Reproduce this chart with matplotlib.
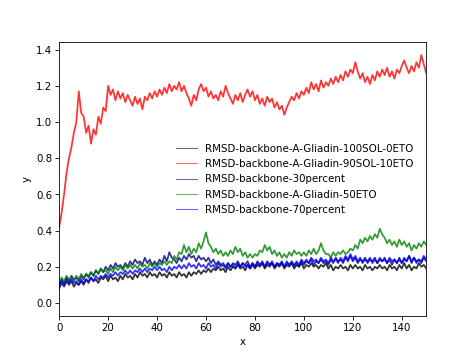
import matplotlib
matplotlib.use("Agg")
import matplotlib.pyplot as plt
import numpy as np

# time axis (one sample per unit)
time = np.arange(0, 151)

labels = ['RMSD-backbone-A-Gliadin-100SOL-0ETO',
          'RMSD-backbone-A-Gliadin-90SOL-10ETO',
          'RMSD-backbone-30percent',
          'RMSD-backbone-A-Gliadin-50ETO',
          'RMSD-backbone-70percent']
colors = ['k', 'r', 'navy', 'g', 'b']

rmsd_100sol = [
    0.08, 0.11, 0.09, 0.12, 0.10, 0.12, 0.09, 0.11, 0.10, 0.12,
    0.10, 0.13, 0.11, 0.14, 0.12, 0.13, 0.11, 0.14, 0.13, 0.15,
    0.12, 0.15, 0.13, 0.14, 0.12, 0.15, 0.13, 0.16, 0.14, 0.15,
    0.13, 0.16, 0.14, 0.17, 0.15, 0.16, 0.14, 0.17, 0.15, 0.16,
    0.14, 0.17, 0.15, 0.16, 0.14, 0.17, 0.15, 0.16, 0.14, 0.17,
    0.15, 0.16, 0.14, 0.17, 0.15, 0.17, 0.16, 0.18, 0.16, 0.18,
    0.17, 0.19, 0.17, 0.19, 0.18, 0.20, 0.18, 0.19, 0.17, 0.20,
    0.18, 0.20, 0.19, 0.21, 0.19, 0.20, 0.18, 0.21, 0.19, 0.21,
    0.19, 0.21, 0.20, 0.22, 0.19, 0.21, 0.20, 0.22, 0.19, 0.21,
    0.20, 0.22, 0.19, 0.21, 0.20, 0.22, 0.19, 0.21, 0.20, 0.22,
    0.19, 0.21, 0.20, 0.22, 0.20, 0.21, 0.19, 0.21, 0.20, 0.22,
    0.19, 0.21, 0.18, 0.20, 0.19, 0.21, 0.19, 0.20, 0.18, 0.21,
    0.19, 0.21, 0.19, 0.20, 0.18, 0.21, 0.19, 0.20, 0.18, 0.20,
    0.19, 0.21, 0.19, 0.20, 0.18, 0.21, 0.19, 0.20, 0.18, 0.21,
    0.19, 0.22, 0.19, 0.21, 0.18, 0.20, 0.19, 0.22, 0.20, 0.21,
    0.19]

rmsd_90sol = [
    0.42, 0.50, 0.60, 0.72, 0.80, 0.86, 0.94, 1.00, 1.17, 1.05,
    1.03, 0.94, 0.98, 0.88, 0.96, 0.93, 1.03, 0.99, 1.08, 1.06,
    1.20, 1.15, 1.18, 1.12, 1.17, 1.13, 1.16, 1.11, 1.15, 1.12,
    1.09, 1.14, 1.10, 1.13, 1.07, 1.14, 1.12, 1.16, 1.13, 1.17,
    1.14, 1.18, 1.15, 1.19, 1.16, 1.21, 1.17, 1.20, 1.18, 1.22,
    1.17, 1.20, 1.16, 1.13, 1.09, 1.15, 1.12, 1.18, 1.21, 1.17,
    1.19, 1.14, 1.17, 1.13, 1.15, 1.12, 1.17, 1.14, 1.20, 1.16,
    1.13, 1.10, 1.15, 1.12, 1.16, 1.11, 1.15, 1.18, 1.14, 1.17,
    1.12, 1.15, 1.10, 1.13, 1.09, 1.14, 1.11, 1.13, 1.08, 1.11,
    1.07, 1.09, 1.04, 1.08, 1.11, 1.14, 1.12, 1.16, 1.13, 1.17,
    1.15, 1.19, 1.16, 1.22, 1.18, 1.21, 1.17, 1.23, 1.19, 1.22,
    1.20, 1.24, 1.21, 1.25, 1.22, 1.26, 1.23, 1.28, 1.25, 1.29,
    1.27, 1.33, 1.28, 1.24, 1.27, 1.22, 1.25, 1.21, 1.26, 1.23,
    1.28, 1.25, 1.29, 1.26, 1.30, 1.25, 1.28, 1.24, 1.29, 1.27,
    1.31, 1.34, 1.30, 1.27, 1.31, 1.28, 1.33, 1.30, 1.37, 1.32,
    1.27]

rmsd_30pct = [
    0.10, 0.13, 0.11, 0.14, 0.12, 0.15, 0.13, 0.14, 0.12, 0.15,
    0.13, 0.16, 0.14, 0.17, 0.15, 0.18, 0.16, 0.19, 0.17, 0.20,
    0.18, 0.21, 0.19, 0.22, 0.20, 0.21, 0.19, 0.22, 0.20, 0.23,
    0.21, 0.24, 0.22, 0.23, 0.21, 0.25, 0.22, 0.24, 0.21, 0.23,
    0.21, 0.24, 0.22, 0.26, 0.23, 0.28, 0.25, 0.24, 0.22, 0.25,
    0.23, 0.26, 0.24, 0.27, 0.25, 0.26, 0.23, 0.26, 0.24, 0.25,
    0.23, 0.25, 0.22, 0.24, 0.21, 0.23, 0.21, 0.22, 0.20, 0.22,
    0.20, 0.22, 0.21, 0.23, 0.20, 0.22, 0.21, 0.23, 0.20, 0.22,
    0.20, 0.23, 0.21, 0.22, 0.20, 0.23, 0.21, 0.22, 0.20, 0.22,
    0.21, 0.23, 0.20, 0.22, 0.21, 0.23, 0.21, 0.22, 0.20, 0.23,
    0.21, 0.23, 0.22, 0.24, 0.21, 0.23, 0.22, 0.24, 0.22, 0.23,
    0.21, 0.24, 0.22, 0.25, 0.23, 0.24, 0.22, 0.25, 0.23, 0.26,
    0.23, 0.25, 0.22, 0.24, 0.23, 0.25, 0.22, 0.24, 0.23, 0.25,
    0.22, 0.24, 0.23, 0.25, 0.22, 0.24, 0.21, 0.24, 0.22, 0.25,
    0.22, 0.24, 0.23, 0.26, 0.22, 0.25, 0.23, 0.24, 0.22, 0.25,
    0.23]

rmsd_50eto = [
    0.11, 0.14, 0.12, 0.15, 0.13, 0.14, 0.12, 0.15, 0.13, 0.16,
    0.14, 0.16, 0.15, 0.17, 0.15, 0.18, 0.16, 0.19, 0.17, 0.18,
    0.16, 0.19, 0.17, 0.20, 0.18, 0.20, 0.18, 0.21, 0.19, 0.21,
    0.19, 0.21, 0.19, 0.22, 0.20, 0.21, 0.19, 0.22, 0.20, 0.22,
    0.20, 0.22, 0.21, 0.23, 0.21, 0.23, 0.22, 0.26, 0.24, 0.28,
    0.27, 0.32, 0.28, 0.31, 0.27, 0.30, 0.28, 0.33, 0.30, 0.34,
    0.39, 0.33, 0.31, 0.28, 0.30, 0.27, 0.29, 0.26, 0.28, 0.26,
    0.29, 0.27, 0.31, 0.28, 0.30, 0.26, 0.28, 0.25, 0.27, 0.25,
    0.27, 0.26, 0.29, 0.28, 0.32, 0.29, 0.31, 0.27, 0.29, 0.26,
    0.28, 0.25, 0.27, 0.25, 0.28, 0.26, 0.29, 0.27, 0.28, 0.26,
    0.28, 0.26, 0.29, 0.27, 0.30, 0.27, 0.29, 0.33, 0.29, 0.27,
    0.27, 0.25, 0.28, 0.26, 0.28, 0.27, 0.29, 0.27, 0.28, 0.30,
    0.29, 0.32, 0.30, 0.35, 0.33, 0.36, 0.34, 0.37, 0.35, 0.38,
    0.36, 0.41, 0.38, 0.36, 0.33, 0.35, 0.32, 0.34, 0.31, 0.35,
    0.32, 0.34, 0.31, 0.33, 0.29, 0.32, 0.30, 0.33, 0.31, 0.34,
    0.32]

rmsd_70pct = [
    0.09, 0.12, 0.10, 0.13, 0.11, 0.13, 0.11, 0.12, 0.10, 0.13,
    0.11, 0.13, 0.12, 0.14, 0.12, 0.15, 0.13, 0.15, 0.14, 0.16,
    0.14, 0.16, 0.15, 0.17, 0.15, 0.17, 0.16, 0.18, 0.16, 0.18,
    0.16, 0.18, 0.17, 0.19, 0.17, 0.19, 0.17, 0.19, 0.18, 0.20,
    0.18, 0.20, 0.18, 0.19, 0.17, 0.20, 0.18, 0.20, 0.19, 0.21,
    0.19, 0.21, 0.19, 0.22, 0.20, 0.21, 0.19, 0.22, 0.20, 0.21,
    0.19, 0.22, 0.20, 0.21, 0.19, 0.22, 0.20, 0.21, 0.19, 0.22,
    0.20, 0.21, 0.19, 0.22, 0.20, 0.22, 0.20, 0.21, 0.19, 0.22,
    0.20, 0.22, 0.21, 0.23, 0.20, 0.22, 0.21, 0.23, 0.20, 0.22,
    0.21, 0.22, 0.20, 0.23, 0.21, 0.22, 0.20, 0.23, 0.21, 0.24,
    0.22, 0.24, 0.22, 0.25, 0.23, 0.24, 0.22, 0.25, 0.23, 0.24,
    0.22, 0.25, 0.23, 0.24, 0.22, 0.25, 0.23, 0.26, 0.24, 0.27,
    0.24, 0.26, 0.23, 0.25, 0.22, 0.24, 0.23, 0.25, 0.22, 0.24,
    0.22, 0.25, 0.23, 0.24, 0.22, 0.25, 0.23, 0.24, 0.22, 0.24,
    0.22, 0.25, 0.23, 0.26, 0.23, 0.25, 0.22, 0.24, 0.23, 0.26,
    0.24]

series = [rmsd_100sol, rmsd_90sol, rmsd_30pct, rmsd_50eto, rmsd_70pct]

fig, ax = plt.subplots(figsize=(6.4, 4.8), dpi=74)
for values, label, color in zip(series, labels, colors):
    ax.plot(time, values, color=color, label=label, linewidth=1.7, alpha=0.8)

ax.set_xlim(0, 150)
ax.set_ylim(-0.072, 1.44)
ax.set_xlabel('x')
ax.set_ylabel('y')
leg = ax.legend(loc='center right', bbox_to_anchor=(0.99, 0.5), frameon=False)
# legend handles are thin and faint in the original
for line in leg.get_lines():
    line.set_linewidth(1.0)
    line.set_alpha(0.6)

fig.savefig('out.png', dpi=74)
